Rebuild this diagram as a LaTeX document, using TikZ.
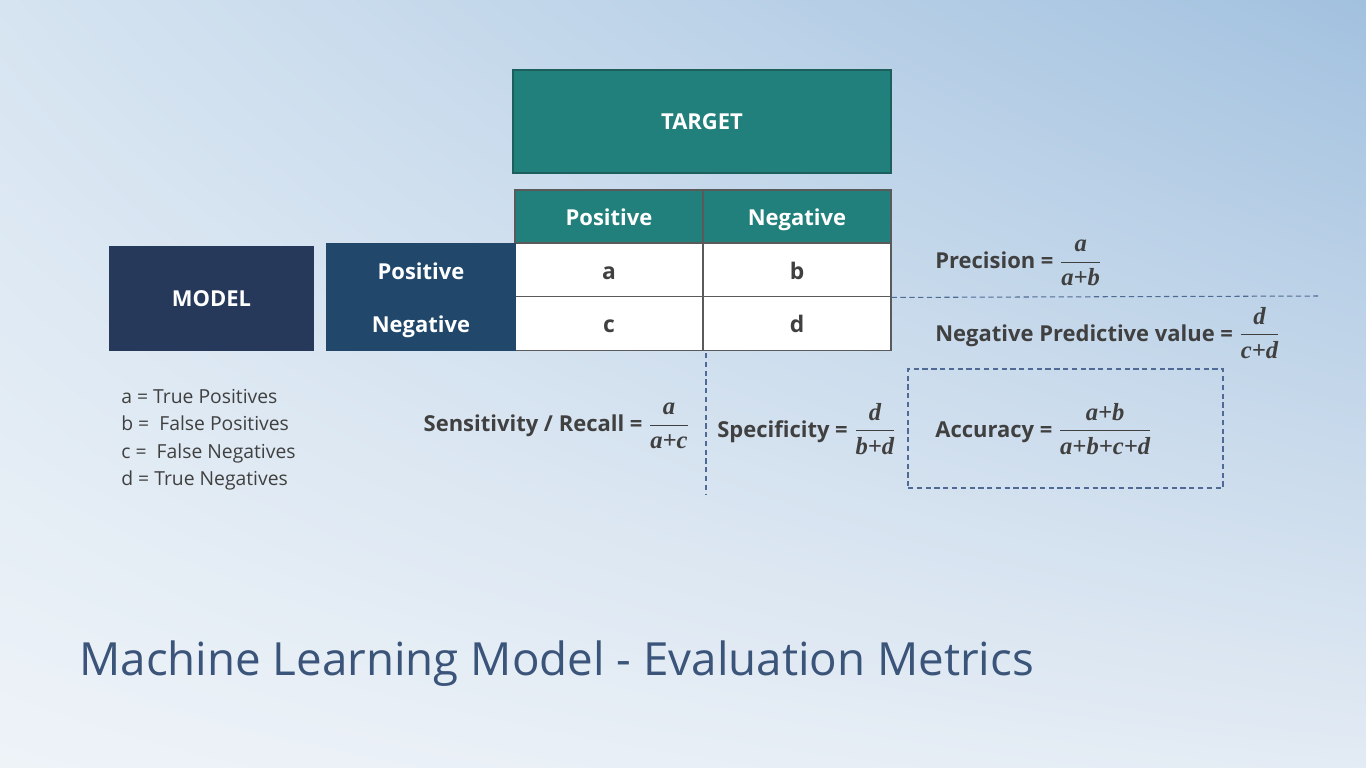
\documentclass[tikz,border=0pt]{standalone}
\usepackage{amsmath}
\usepackage{fontspec}
\setmainfont{Open Sans}
\newfontfamily\fracfont{Liberation Serif}
\newcommand{\ratio}[2]{{\fontsize{14}{16}\selectfont$\dfrac{\text{\fracfont\bfseries\itshape #1}}{\text{\fracfont\bfseries\itshape #2}}$}}
\usetikzlibrary{positioning, calc, shadings}
\definecolor{ink}{HTML}{404040}
\definecolor{teal}{HTML}{22807C}
\definecolor{tealdark}{HTML}{1C5F5C}
\definecolor{navy}{HTML}{26395A}
\definecolor{rowblue}{HTML}{21476A}
\definecolor{grid}{HTML}{5A5A5A}
\definecolor{titleblue}{HTML}{3B5479}
\definecolor{dashblue}{HTML}{4F6A94}
\definecolor{bgtl}{HTML}{D6E4F1}
\definecolor{bgtr}{HTML}{A2C1DF}
\definecolor{bgbl}{HTML}{EEF3F8}
\definecolor{bgbr}{HTML}{E3EBF4}
\tikzset{
  font=\fontsize{12.5}{15}\selectfont,
  %
  head/.style={draw=grid, line width=0.8pt, fill=teal, text=white,
               font=\fontsize{12.5}{15}\selectfont\bfseries,
               text height=12pt, text depth=1.2pt,
               minimum width=3.76cm, minimum height=1.06cm, inner sep=0pt},
  rowhead/.style={head, fill=rowblue, draw=rowblue},
  cell/.style={draw=grid, line width=0.8pt, fill=white, text=ink,
               font=\fontsize{13}{15}\selectfont\bfseries,
               text height=12pt, text depth=1.2pt,
               minimum width=3.76cm, minimum height=1.07cm, inner sep=0pt},
  bigbox/.style={line width=0.8pt, text=white,
                 font=\fontsize{12.5}{15}\selectfont\bfseries,
                 minimum height=2.06cm, inner sep=0pt},
  %
  metric/.style={text=ink, font=\fontsize{12.5}{15}\selectfont\bfseries,
                 inner sep=0pt},
  legend/.style={text=ink, font=\fontsize{11}{15.5}\selectfont,
                 align=left, inner sep=0pt},
  sep/.style={draw=dashblue, line width=0.6pt, dash pattern=on 3pt off 2pt},
}
\begin{document}
\begin{tikzpicture}[x=1cm, y=1cm]

% ------------------------------------------------------------- background
\shade[upper left=bgtl, upper right=bgtr, lower left=bgbl, lower right=bgbr]
  (0,0) rectangle (27.32,-15.36);
\useasboundingbox (0,0) rectangle (27.32,-15.36);

% ------------------------------------------------------------------ table
\node[bigbox, fill=teal, draw=tealdark, minimum width=7.56cm]
  (target) at (14.04,-2.43) {TARGET};

\node[head] (hpos) at (12.18,-4.33) {Positive};
\node[head] (hneg) at (15.94,-4.33) {Negative};

\node[cell] (ca) at (12.18,-5.40) {a};
\node[cell] (cb) at (15.94,-5.40) {b};
\node[cell] (cc) at (12.18,-6.47) {c};
\node[cell] (cd) at (15.94,-6.47) {d};

\node[rowhead] (rpos) at (8.42,-5.40) {Positive};
\node[rowhead] (rneg) at (8.42,-6.47) {Negative};

\node[bigbox, fill=navy, draw=navy, minimum width=4.06cm]
  (model) at (4.23,-5.97) {MODEL};

% ----------------------------------------------------------------- legend
\node[legend, anchor=north west] (key) at (2.42,-7.78)
  {a =~True Positives\\ b =~~False Positives\\ c =~~False Negatives\\ d =~True Negatives};

% ---------------------------------------------------------------- metrics
\node[metric, anchor=east] (sens) at (13.80,-8.52)
  {Sensitivity / Recall = \ratio{a}{a+c}};
\coordinate (vtop) at (14.12,-7.06);
\coordinate (vbot) at (14.12,-9.88);
\draw[sep] (vtop) -- (vbot);

\node[metric, anchor=west] (spec) at (14.34,-8.58)
  {Specificity = \ratio{d}{b+d}};

\node[sep, minimum width=6.30cm, minimum height=2.38cm, inner sep=0pt]
  (accbox) at (21.31,-8.57) {};
\node[metric, anchor=west] (acc) at (18.70,-8.58)
  {Accuracy = \ratio{a+b}{a+b+c+d}};

\node[metric, anchor=west] (prec) at (18.70,-5.26)
  {Precision = \ratio{a}{a+b}};
\coordinate (hend) at (26.36,-5.92);
\draw[sep] (cb.south east) -- (hend);
\node[metric, anchor=west] (npv) at (18.70,-6.66)
  {Negative Predictive value = \ratio{d}{c+d}};

% ------------------------------------------------------------------ title
\node[anchor=west, text=titleblue, font=\fontsize{26}{31}\selectfont, inner sep=0pt]
  (title) at (1.58,-13.28) {Machine Learning Model - Evaluation Metrics};

\end{tikzpicture}
\end{document}
